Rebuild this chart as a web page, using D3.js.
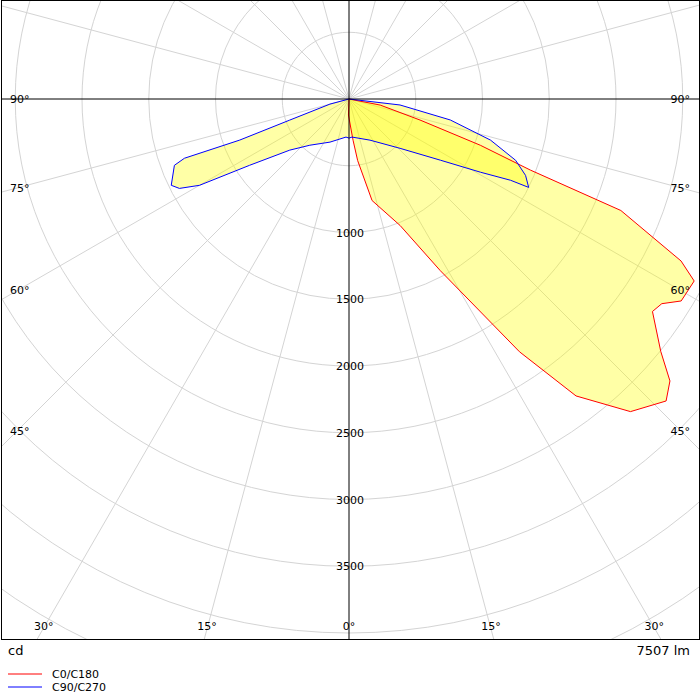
<!DOCTYPE html>
<html><head><meta charset="utf-8">
<script src="https://cdn.jsdelivr.net/npm/d3@7"></script>
<style>body{margin:0;background:#fff}text{font-family:Tahoma,"DejaVu Sans",sans-serif;font-size:11px;fill:#000}</style>
</head><body><div id="chart"></div>
<script>
// gamma angles (deg, 0 = down, + = right) and intensities (cd)
const c0Angles = [-2, 5.6, 8, 12.8, 22, 28, 34, 37.4, 42, 46.4, 48.7, 51, 55, 56.8, 58.7, 62.2, 64, 67.7, 68.6, 70.6, 73.5, 79, 90];
const c0Values = [120, 310, 466, 780, 1022, 1456, 2284, 2800, 3151, 3280, 3200, 3005, 2775, 2800, 2912, 2923, 2767, 2201, 1460, 1043, 555, 238, 0];
const c90Angles = [-90, -75, -70.4, -69.4, -70.2, -69.2, -64.1, -62.2, -60, -56.3, -49.2, -40.3, -23.8, -4.5, 0, 4.5, 27, 46, 56.2, 60.9, 63.3, 63.8, 66.6, 69.8, 73.8, 78.3, 83.3, 90];
const c90Values = [0, 148, 471, 874, 1310, 1399, 1480, 1436, 1293, 895, 586, 454, 353, 286, 293, 286, 346, 532, 824, 1128, 1355, 1500, 1441, 1330, 1104, 775, 385, 0];
const ringValues = [500, 1000, 1500, 2000, 2500, 3000, 3500, 4000, 4500, 5000, 5500, 6000];
const ringLabels = [1000, 1500, 2000, 2500, 3000, 3500];
const spokeAngles = d3.range(-180, 180, 15);
const legendNames = ["C0/C180", "C90/C270"];
const legendColors = ["#ff0000", "#0000ff"];

const W = 700, H = 700, cx = 349, cy = 99, fx0 = 1, fy0 = 1, fx1 = 699, fy1 = 640;
const r = d3.scaleLinear().domain([0, 1000]).range([0, 133.5]);

const svg = d3.select("#chart").append("svg").attr("width", W).attr("height", H);
svg.append("clipPath").attr("id", "clip").append("rect")
  .attr("x", fx0).attr("y", fy0).attr("width", fx1 - fx0).attr("height", fy1 - fy0);
const g = svg.append("g").attr("clip-path", "url(#clip)");

function pt(a, v) {
  const t = a * Math.PI / 180;
  return [cx + r(v) * Math.sin(t), cy + r(v) * Math.cos(t)];
}

g.selectAll("circle.ring").data(ringValues).join("circle")
  .attr("cx", cx).attr("cy", cy).attr("r", d => r(d))
  .attr("fill", "none").attr("stroke", "#d4d4d4");
g.selectAll("line.spoke").data(spokeAngles.filter(a => a % 90 !== 0)).join("line")
  .attr("x1", cx).attr("y1", cy)
  .attr("x2", d => pt(d, 8000)[0]).attr("y2", d => pt(d, 8000)[1])
  .attr("stroke", "#d4d4d4");

const line = d3.line().curve(d3.curveLinearClosed);
const curves = [[c0Angles, c0Values, legendColors[0]], [c90Angles, c90Values, legendColors[1]]];
curves.forEach(([as, vs]) => {
  g.append("path").attr("d", line(as.map((a, i) => pt(a, vs[i]))))
    .attr("fill", "#ffff00").attr("fill-opacity", 0.35).attr("stroke", "none");
});
curves.forEach(([as, vs, c]) => {
  g.append("path").attr("d", line(as.map((a, i) => pt(a, vs[i]))))
    .attr("fill", "none").attr("stroke", c).attr("stroke-width", 1);
});

g.append("line").attr("x1", cx).attr("x2", cx).attr("y1", fy0).attr("y2", fy1).attr("stroke", "#000");
g.append("line").attr("x1", fx0).attr("x2", fx1).attr("y1", cy).attr("y2", cy).attr("stroke", "#000");

svg.selectAll("text.ring").data(ringLabels).join("text")
  .attr("x", cx + 1).attr("y", d => cy + r(d) + 4).attr("text-anchor", "middle").text(d => d);

// angle labels at frame edges
const sideOffsets = {90: 4, 75: -1, 60: -7, 45: -14};
[90, 75, 60, 45].forEach(a => {
  const y = cy + (fx1 - cx) / Math.tan(a * Math.PI / 180);
  const yy = y + sideOffsets[a];
  svg.append("text").attr("x", 10).attr("y", yy).text(a + "°");
  svg.append("text").attr("x", 690).attr("y", yy).attr("text-anchor", "end").text(a + "°");
});
[30, 15, 0].forEach(a => {
  const dx = (fy1 - cy) * Math.tan(a * Math.PI / 180);
  const off = a === 0 ? 0 : (a === 30 ? -7 : -3);
  [-1, 1].forEach(s => {
    if (a === 0 && s < 0) return;
    svg.append("text").attr("x", cx + s * (dx + off)).attr("y", 630).attr("text-anchor", "middle").text(a + "°");
  });
});

svg.append("rect").attr("x", fx0 + 0.5).attr("y", fy0 - 0.5).attr("width", fx1 - fx0).attr("height", fy1 - fy0)
  .attr("fill", "none").attr("stroke", "#000");

svg.append("text").attr("x", 8).attr("y", 655).style("font-size", "13px").text("cd");
svg.append("text").attr("x", 690).attr("y", 655).attr("text-anchor", "end").style("font-size", "13px").text("7507 lm");
legendNames.forEach((n, i) => {
  const y = 674 + i * 13;
  svg.append("line").attr("x1", 8).attr("x2", 42).attr("y1", y).attr("y2", y).attr("stroke", legendColors[i]);
  svg.append("text").attr("x", 52).attr("y", y + 4).text(n);
});
</script></body></html>
